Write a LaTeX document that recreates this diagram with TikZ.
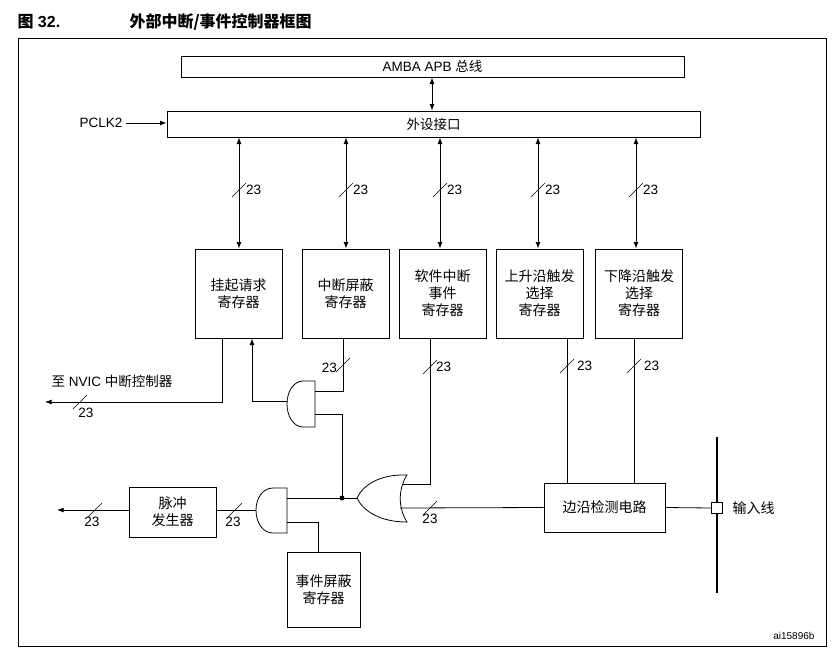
\documentclass[tikz,border=0pt]{standalone}
\usepackage{fontspec}
\setmainfont{Liberation Sans}
\newfontfamily\cjk{Noto Sans CJK SC}
\usetikzlibrary{arrows.meta,positioning}

\tikzset{
  reg/.style={draw, thick, minimum width=87pt, minimum height=89pt, align=center,
              font=\cjk\fontsize{14}{17}\selectfont},
  bar/.style={draw, thick, minimum height=22pt, font=\fontsize{13.5}{15}\selectfont},
  wire/.style={thick},
  bus/.style={thick, Latex-Latex},
  num/.style={font=\fontsize{13.5}{15}\selectfont, inner sep=1pt},
}
\newcommand{\slashmark}[1]{\draw (#1) ++(-7,7) -- ++(14,-14);}

\begin{document}
\begin{tikzpicture}[x=1pt,y=-1pt]
  \useasboundingbox (0,0) rectangle (832,653);
  % title and frame
  \node[anchor=west, font=\bfseries\fontsize{16}{18}\selectfont] (fig) at (14,22) {{\cjk 图} 32.};
  \node[anchor=west, font=\cjk\bfseries\fontsize{16}{18}\selectfont] (title) at (126,22) {外部中断/事件控制器框图};
  \draw[thick] (18,38) rectangle (826,646);

  % buses
  \node[bar, minimum width=503pt, minimum height=21pt] (amba) at (432.5,66.5) {AMBA APB {\cjk 总线}};
  \node[bar, minimum width=533pt, minimum height=26pt] (apb) at (433.5,124) {\cjk 外设接口};
  \node[font=\fontsize{13.5}{15}\selectfont] (pclk) at (101,123) {PCLK2};
  \draw[wire, -Latex] (pclk.east) -- (apb.west |- pclk.east);
  \draw[bus] (amba.south -| 432,0) -- (apb.north -| 432,0);

  % registers
  \node[reg] (pend) at (238.5,293.5) {挂起请求\\寄存器};
  \node[reg] (imr) at (345.5,293.5) {中断屏蔽\\寄存器};
  \node[reg] (swi) at (442.5,293.5) {软件中断\\事件\\寄存器};
  \node[reg] (rise) at (539.5,293.5) {上升沿触发\\选择\\寄存器};
  \node[reg] (fall) at (639,293.5) {下降沿触发\\选择\\寄存器};
  \foreach \r/\x in {pend/239, imr/346, swi/440, rise/538, fall/636} {
    \draw[bus] (apb.south -| \x,0) -- (\r.north -| \x,0);
    \slashmark{\x,190}
    \node[num, anchor=west] at (\x+6,190) {23};
  }

  % edge detector and input line
  \node[draw, thick, minimum width=121pt, minimum height=49pt, font=\cjk\fontsize{14}{17}\selectfont] (edge) at (604.5,507.5) {边沿检测电路};
  \draw[line width=1.8pt] (717,437) -- (717,593);
  \node[draw, thick, fill=white, minimum size=11pt, inner sep=0pt] (pin) at (717,508) {};
  \node[anchor=west, font=\cjk\fontsize{14}{17}\selectfont] (inlbl) at (729,508) {输入线};
  \draw[wire] (edge.east) -- (pin.west);
  \draw[wire] (rise.south -| 567,0) -- (edge.north -| 567,0);
  \draw[wire] (fall.south -| 634,0) -- (edge.north -| 634,0);
  \slashmark{567,366} \node[num, anchor=west] at (576,366) {23};
  \slashmark{634,366} \node[num, anchor=west] at (643,366) {23};

  % OR gate
  \draw[thick] (407,475) .. controls (380,474) and (363,485) .. (357,498)
               .. controls (363,511) and (380,522) .. (407,522)
               .. controls (398,508) and (398,489) .. cycle;
  \coordinate (orA) at (402,484);
  \coordinate (orB) at (400,508);
  \coordinate (orY) at (357,498);
  \draw[wire] (swi.south -| 430,0) |- (orA);
  \slashmark{430,367} \node[num, anchor=west] at (435,367) {23};
  \draw[wire] (edge.west) -- (orB);
  \slashmark{430,508} \node[num, anchor=north] at (430,513) {23};

  % upper AND gate
  \draw[thick] (315,381) -- (303,381) .. controls (294,381) and (287,391) .. (287,404)
               .. controls (287,417) and (294,427) .. (303,427) -- (315,427) -- cycle;
  \coordinate (upA) at (315,391);
  \coordinate (upB) at (315,414);
  \coordinate (upY) at (287,401);
  \draw[wire] (imr.south -| 343,0) |- (upA);
  \slashmark{343,365} \node[num, anchor=east] at (338,368) {23};
  \coordinate (dot) at (342,498);
  \fill (dot) circle (2.5);
  \draw[wire] (orY) -- (dot) |- (upB);
  \draw[wire, -Latex] (upY) -| (pend.south -| 252,0);

  % NVIC output
  \coordinate (nvic) at (45,402);
  \draw[wire, -Latex] (pend.south -| 222,0) |- (nvic);
  \node[anchor=west, font=\fontsize{13.5}{15}\selectfont] (nviclbl) at (48,381) {{\cjk 至} NVIC {\cjk 中断控制器}};
  \slashmark{80,402} \node[num] at (86,413) {23};

  % lower AND gate
  \draw[thick] (287,488) -- (273,488) .. controls (263,488) and (256,498) .. (256,510)
               .. controls (256,523) and (263,533) .. (273,533) -- (287,533) -- cycle;
  \coordinate (loA) at (287,498);
  \coordinate (loB) at (287,522);
  \coordinate (loY) at (256,510);
  \draw[wire] (dot) -- (loA);
  \node[reg, minimum width=73pt, minimum height=75pt] (emr) at (323.5,589.5) {事件屏蔽\\寄存器};
  \draw[wire] (loB) -| (emr.north -| 318,0);

  % pulse generator
  \node[reg, minimum width=87pt, minimum height=50pt] (pulse) at (172.5,512) {脉冲\\发生器};
  \draw[wire] (loY) -- (pulse.east |- loY);
  \slashmark{235,510} \node[num] at (233,522) {23};
  \coordinate (evt) at (57,510);
  \draw[wire, -Latex] (pulse.west |- loY) -- (evt);
  \slashmark{95,510} \node[num] at (92,522) {23};

  \node[anchor=east, font=\fontsize{10}{12}\selectfont] (code) at (818,636) {ai15896b};
\end{tikzpicture}
\end{document}
